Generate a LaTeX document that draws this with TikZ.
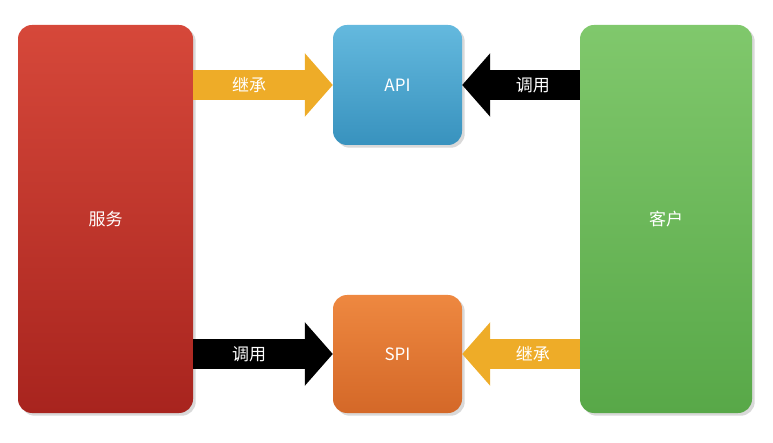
\documentclass[tikz,border=0pt]{standalone}
\usepackage{fontspec}
\setmainfont{Noto Sans CJK SC}
\usetikzlibrary{arrows.meta,shadows}
\definecolor{arrowyellow}{RGB}{238,172,40}
\definecolor{redtop}{RGB}{214,72,58}
\definecolor{redbot}{RGB}{168,36,30}
\definecolor{greentop}{RGB}{128,200,108}
\definecolor{greenbot}{RGB}{88,168,72}
\definecolor{bluetop}{RGB}{100,185,222}
\definecolor{bluebot}{RGB}{56,146,190}
\definecolor{orangetop}{RGB}{238,136,64}
\definecolor{orangebot}{RGB}{212,104,40}
\begin{document}
\begin{tikzpicture}[x=1pt,y=-1pt,
  box/.style={draw=none,rounded corners=14pt,minimum width=#1,text=white,font=\fontsize{17}{20}\selectfont,drop shadow={opacity=0.3}},
  conn/.style={line width=30pt,draw=#1,-{Triangle[width=62pt,length=28pt,fill=#1]}},
  lab/.style={text=white,font=\fontsize{17}{20}\selectfont}]
\useasboundingbox (0,0) rectangle (773,443);
\node[box=175pt,minimum height=388pt,top color=redtop,bottom color=redbot] (srv) at (105.5,219) {服务};
\node[box=172pt,minimum height=388pt,top color=greentop,bottom color=greenbot] (cli) at (666,219) {客户};
\node[box=129pt,minimum height=120pt,top color=bluetop,bottom color=bluebot] (api) at (397.5,85) {API};
\node[box=129pt,minimum height=118pt,top color=orangetop,bottom color=orangebot] (spi) at (397.5,354) {SPI};
\draw[conn=arrowyellow] (srv.east |- api) -- (api.west) node[lab,pos=0.4]{继承};
\draw[conn=black] (cli.west |- api) -- (api.east) node[lab,pos=0.4]{调用};
\draw[conn=black] (srv.east |- spi) -- (spi.west) node[lab,pos=0.4]{调用};
\draw[conn=arrowyellow] (cli.west |- spi) -- (spi.east) node[lab,pos=0.4]{继承};
\end{tikzpicture}
\end{document}
